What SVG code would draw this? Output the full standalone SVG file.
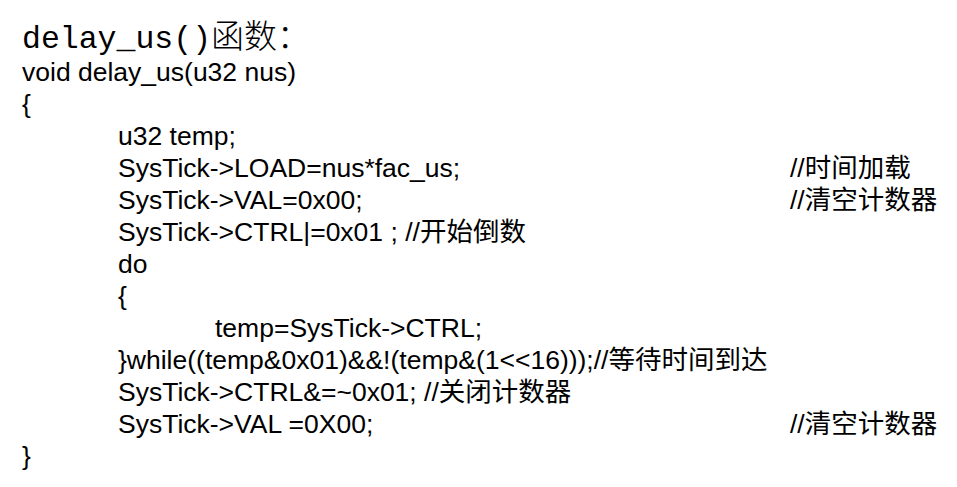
<svg xmlns="http://www.w3.org/2000/svg" width="957" height="487" viewBox="0 0 957 487">
<style>
.t{font-family:"Liberation Sans","Noto Sans CJK SC",sans-serif;font-size:26.5px;fill:#000;letter-spacing:0px}
.h{font-family:"Liberation Mono","Noto Sans CJK SC",monospace;font-size:31.5px;fill:#000}
.c{font-family:"Noto Sans CJK SC",sans-serif;font-size:33px;font-weight:300}
</style>
<rect width="957" height="487" fill="#fff"/>
<text class="h" x="22" y="48">delay_us()<tspan class="c">函数：</tspan></text>
<text class="t" x="22" y="81">void delay_us(u32 nus)</text>
<text class="t" x="22" y="113">{</text>
<text class="t" x="118" y="145">u32 temp;</text>
<text class="t" x="118" y="177">SysTick-&gt;LOAD=nus*fac_us;</text>
<text class="t" x="790" y="177">//时间加载</text>
<text class="t" x="118" y="209">SysTick-&gt;VAL=0x00;</text>
<text class="t" x="790" y="209">//清空计数器</text>
<text class="t" x="118" y="241">SysTick-&gt;CTRL|=0x01 ; //开始倒数</text>
<text class="t" x="118" y="273">do</text>
<text class="t" x="118" y="305">{</text>
<text class="t" x="215" y="337">temp=SysTick-&gt;CTRL;</text>
<text class="t" x="118" y="369">}while((temp&amp;0x01)&amp;&amp;!(temp&amp;(1&lt;&lt;16)));//等待时间到达</text>
<text class="t" x="118" y="401">SysTick-&gt;CTRL&amp;=~0x01; //关闭计数器</text>
<text class="t" x="118" y="433">SysTick-&gt;VAL =0X00;</text>
<text class="t" x="790" y="433">//清空计数器</text>
<text class="t" x="22" y="465">}</text>
</svg>
